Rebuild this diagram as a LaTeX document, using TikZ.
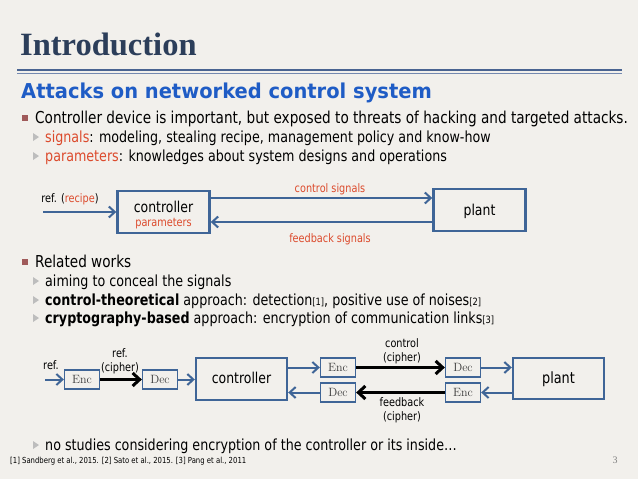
\documentclass[tikz,border=0pt]{standalone}
\usepackage{fontspec}
\usepackage{tikz}
\usetikzlibrary{arrows.meta}
\newfontfamily\cuerpo{DejaVu Sans}[FakeStretch=0.83]
\newfontfamily\encab{DejaVu Sans}[FakeStretch=0.95]
\newfontfamily\titular{Liberation Serif}
\definecolor{Fondo}{HTML}{F2F0EC}
\definecolor{Pizarra}{HTML}{2C3E5A}
\definecolor{Regla}{HTML}{4A6491}
\definecolor{ReglaClara}{HTML}{7489B0}
\definecolor{AzulVivo}{HTML}{1F5CC5}
\definecolor{Acero}{HTML}{3F6597}
\definecolor{Rojo}{HTML}{DC4A2C}
\definecolor{Ladrillo}{HTML}{A05A5A}
\definecolor{Gris}{HTML}{BDBDBD}
\definecolor{GrisTexto}{HTML}{3A3A3A}

\begin{document}
\begin{tikzpicture}[
  x=1pt, y=-1pt,
  linea/.style={anchor=base west,inner sep=0,font=\cuerpo\fontsize{15.3}{18}\selectfont},
  punto/.style={linea,font=\cuerpo\fontsize{16.4}{19}\selectfont},
  rotulo/.style={anchor=base,inner sep=0,font=\cuerpo\fontsize{11.7}{13}\selectfont},
  caja/.style={draw=Acero,line width=2.4pt,minimum width=92pt,minimum height=42pt,inner sep=0},
  cifra/.style={draw=Acero,line width=1.3pt,minimum width=35pt,minimum height=19pt,inner sep=0,
    text=GrisTexto,font=\fontsize{12}{13}\selectfont},
  flecha/.style={-{Straight Barb[length=6pt,width=11pt]},Acero,line width=2pt},
  cifrada/.style={-{Straight Barb[length=7pt,width=13pt]},black,line width=3pt}
]
  \useasboundingbox (0,0) rectangle (638,479);
  \fill[Fondo] (0,0) rectangle (638,479);

  \node[anchor=base west,inner sep=0,text=Pizarra,font=\titular\bfseries\fontsize{32.5}{36}\selectfont]
    (titulo) at (20,55) {Introduction};
  \draw[Regla,line width=2pt] (17,70.3) -- (622,70.3);
  \draw[ReglaClara,line width=1.3pt] (17,73.5) -- (622,73.5);
  \node[anchor=base west,inner sep=0,text=AzulVivo,font=\encab\bfseries\fontsize{20.5}{24}\selectfont]
    (seccion) at (21,98) {Attacks on networked control system};

  \foreach \b in {123,267} \fill[Ladrillo] (22,\b-8) rectangle (28,\b-2);
  \foreach \b in {142,161,286,305,323,450} \fill[Gris] (33,\b-9) -- (39,\b-5) -- (33,\b-1) -- cycle;

  \node[punto] (l1) at (35,123)
    {Controller device is important, but exposed to threats of hacking and targeted attacks.};
  \node[linea] (l2) at (45,142)
    {\textcolor{Rojo}{signals}: modeling, stealing recipe, management policy and know-how};
  \node[linea] (l3) at (45,161)
    {\textcolor{Rojo}{parameters}: knowledges about system designs and operations};

  \node[caja] (ctrl1) at (163.5,212) {};
  \node[caja] (plant1) at (479.5,210) {};
  \node[linea,anchor=base,font=\cuerpo\fontsize{15}{18}\selectfont] (ctrl1txt) at (163.5,212.5) {controller};
  \node[rotulo,text=Rojo] (param) at (163.5,226.5) {parameters};
  \node[linea,anchor=base,font=\cuerpo\fontsize{15}{18}\selectfont] (plant1txt) at (479.5,215) {plant};
  \node[rotulo] (refreceta) at (70,202) {ref. (\textcolor{Rojo}{recipe})};
  \node[rotulo,text=Rojo] (ctrlsig) at (330,192) {control signals};
  \node[rotulo,text=Rojo] (fbsig) at (330,242) {feedback signals};
  \coordinate (entrada1) at (43,212);
  \coordinate (ida1) at (0,198);
  \coordinate (vuelta1) at (0,222);
  \draw[flecha] (entrada1) -- (ctrl1.west);
  \draw[flecha] (ctrl1.east |- ida1) -- (plant1.west |- ida1);
  \draw[flecha] (plant1.west |- vuelta1) -- (ctrl1.east |- vuelta1);

  \node[punto] (l4) at (35,267) {Related works};
  \node[linea] (l5) at (45,286) {aiming to conceal the signals};
  \node[linea] (l6) at (45,305) {\textbf{control-theoretical} approach:
    detection{\fontsize{10}{12}\selectfont[1]}, positive use of noises{\fontsize{10}{12}\selectfont[2]}};
  \node[linea] (l7) at (45,323) {\textbf{cryptography-based} approach:
    encryption of communication links{\fontsize{10}{12}\selectfont[3]}};

  \node[cifra] (enc1) at (82,379.5) {Enc};
  \node[cifra] (dec1) at (160,379.5) {Dec};
  \node[caja,minimum width=91pt] (ctrl2) at (241.5,379) {};
  \node[linea,anchor=base,font=\cuerpo\fontsize{15}{18}\selectfont] (ctrl2txt) at (241.5,383) {controller};
  \node[cifra] (enc2) at (338,367.5) {Enc};
  \node[cifra] (dec2) at (338,392.5) {Dec};
  \node[cifra] (dec3) at (463,367.5) {Dec};
  \node[cifra] (enc3) at (463,392.5) {Enc};
  \node[caja,minimum width=91pt,minimum height=41pt] (plant2) at (558.5,378.5) {};
  \node[linea,anchor=base,font=\cuerpo\fontsize{15.5}{18}\selectfont] (plant2txt) at (558.5,383) {plant};
  \node[rotulo] (ref2) at (51,369) {ref.};
  \node[rotulo] (refc1) at (120,357) {ref.};
  \node[rotulo] (refc2) at (120,371) {(cipher)};
  \node[rotulo] (ctrlc1) at (402,347) {control};
  \node[rotulo] (ctrlc2) at (402,361) {(cipher)};
  \node[rotulo] (fbc1) at (402,406) {feedback};
  \node[rotulo] (fbc2) at (402,420) {(cipher)};
  \coordinate (entrada2) at (45,379.5);
  \draw[flecha] (entrada2) -- (enc1.west);
  \draw[cifrada] (enc1) -- (dec1);
  \draw[flecha] (dec1) -- (ctrl2.west |- dec1);
  \draw[flecha] (ctrl2.east |- enc2) -- (enc2);
  \draw[cifrada] (enc2) -- (dec3);
  \draw[flecha] (dec3) -- (plant2.west |- dec3);
  \draw[flecha] (plant2.west |- enc3) -- (enc3);
  \draw[cifrada] (enc3) -- (dec2);
  \draw[flecha] (dec2) -- (ctrl2.east |- dec2);

  \node[linea] (l8) at (45,450) {no studies considering encryption of the controller or its inside\dots};
  \node[anchor=base west,inner sep=0,font=\cuerpo\fontsize{8.3}{10}\selectfont] (pie) at (10,463)
    {[1] Sandberg et al., 2015. [2] Sato et al., 2015. [3] Pang et al., 2011};
  \node[anchor=base,inner sep=0,text=gray,font=\titular\fontsize{10}{12}\selectfont] (pagina) at (615,463) {3};
\end{tikzpicture}
\end{document}
